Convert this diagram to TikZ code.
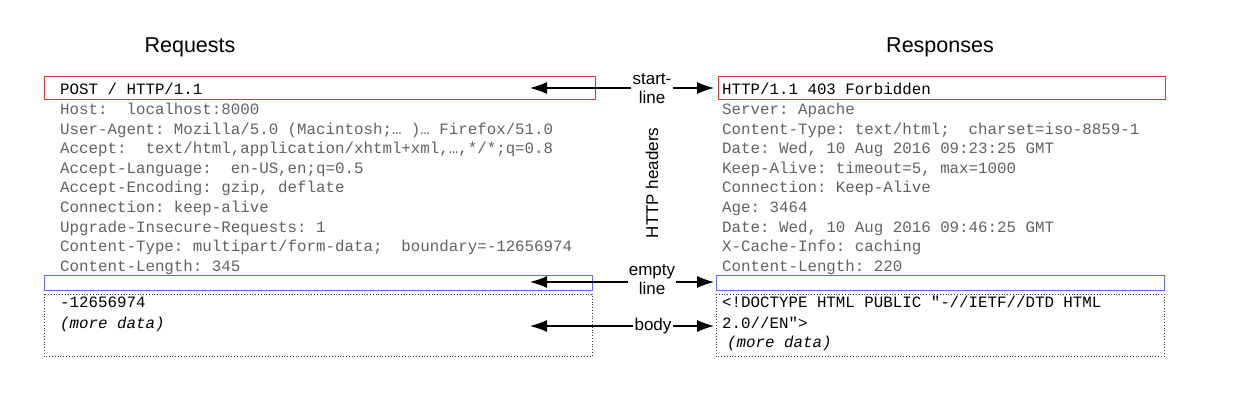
\documentclass[tikz,border=0pt]{standalone}
\usepackage{fontspec}
\setmainfont{Liberation Sans}
\setmonofont{Liberation Mono}
\usetikzlibrary{arrows.meta}
\begin{document}
\begin{tikzpicture}[x=1pt,y=-1pt,
  mono/.style={anchor=base west,inner sep=0pt,font=\ttfamily\fontsize{15.8}{18}\selectfont,text=#1},
  mono/.default={black!62},
  title/.style={font=\fontsize{21.5}{24}\selectfont},
  lab/.style={font=\fontsize{17}{19}\selectfont,align=center,inner sep=1pt},
  arr/.style={-{Latex[length=17pt,width=12pt]},line width=1.1pt},
  red box/.style={draw=red!80!black!80,line width=0.8pt},
  blue box/.style={draw=blue!60,line width=0.8pt},
  dot box/.style={draw=black!80,dotted,line width=0.8pt}]
\useasboundingbox (0,0) rectangle (1246,419);
\node[title] (req) at (190,47) {Requests};
\node[title] (res) at (940,47) {Responses};
% boxes
\draw[red box] (44,76) rectangle (595,99);
\draw[blue box] (44,275) rectangle (592,290);
\draw[dot box] (44,294) rectangle (592,356);
\draw[red box] (718,76) rectangle (1165,99);
\draw[blue box] (716,275) rectangle (1164,290);
\draw[dot box] (716,294) rectangle (1164,356);
% left text
\node[mono=black] (l0) at (60,95) {POST / HTTP/1.1};
\foreach \t [count=\i] in {Host:\ \ localhost:8000,
 User-Agent: Mozilla/5.0 (Macintosh;… )… Firefox/51.0,
 Accept:\ \ text/html{,}application/xhtml+xml{,}…{,}*/*;q=0.8,
 Accept-Language:\ \ en-US{,}en;q=0.5,
 Accept-Encoding: gzip{,} deflate,
 Connection: keep-alive,
 Upgrade-Insecure-Requests: 1,
 Content-Type: multipart/form-data;\ \ boundary=-12656974,
 Content-Length: 345}
 \node[mono] (l\i) at (60,95+19.6*\i) {\t};
\node[mono=black] (lb1) at (60,308) {-12656974};
\node[mono=black] (lb2) at (60,328) {\itshape (more data)};
% right text
\node[mono=black] (r0) at (722,95) {HTTP/1.1 403 Forbidden};
\foreach \t [count=\i] in {Server: Apache,
 Content-Type: text/html;\ \ charset=iso-8859-1,
 Date: Wed{,} 10 Aug 2016 09:23:25 GMT,
 Keep-Alive: timeout=5{,} max=1000,
 Connection: Keep-Alive,
 Age: 3464,
 Date: Wed{,} 10 Aug 2016 09:46:25 GMT,
 X-Cache-Info: caching,
 Content-Length: 220}
 \node[mono] (r\i) at (722,95+19.6*\i) {\t};
\node[mono=black] (rb1) at (722,308) {<!DOCTYPE HTML PUBLIC "-//IETF//DTD HTML};
\node[mono=black] (rb2) at (722,328) {2.0//EN">};
\node[mono=black] (rb3) at (727,347) {\itshape (more data)};
% labels
\node[lab] (sl) at (652,89) {start-\\line};
\node[lab] (el) at (652,280) {empty\\line};
\node[lab] (bd) at (653,326) {body};
\node[lab,rotate=90] (hh) at (652,183) {HTTP headers};
\coordinate (slL) at (530,88); \coordinate (slR) at (714,88);
\coordinate (elL) at (530,282); \coordinate (elR) at (714,282);
\coordinate (bdL) at (530,326); \coordinate (bdR) at (714,326);
\draw[arr] (sl.west |- slL) -- (slL);
\draw[arr] (sl.east |- slR) -- (slR);
\draw[arr] (el.west |- elL) -- (elL);
\draw[arr] (el.east |- elR) -- (elR);
\draw[arr] (bd.west) -- (bdL);
\draw[arr] (bd.east) -- (bdR);
\end{tikzpicture}
\end{document}
